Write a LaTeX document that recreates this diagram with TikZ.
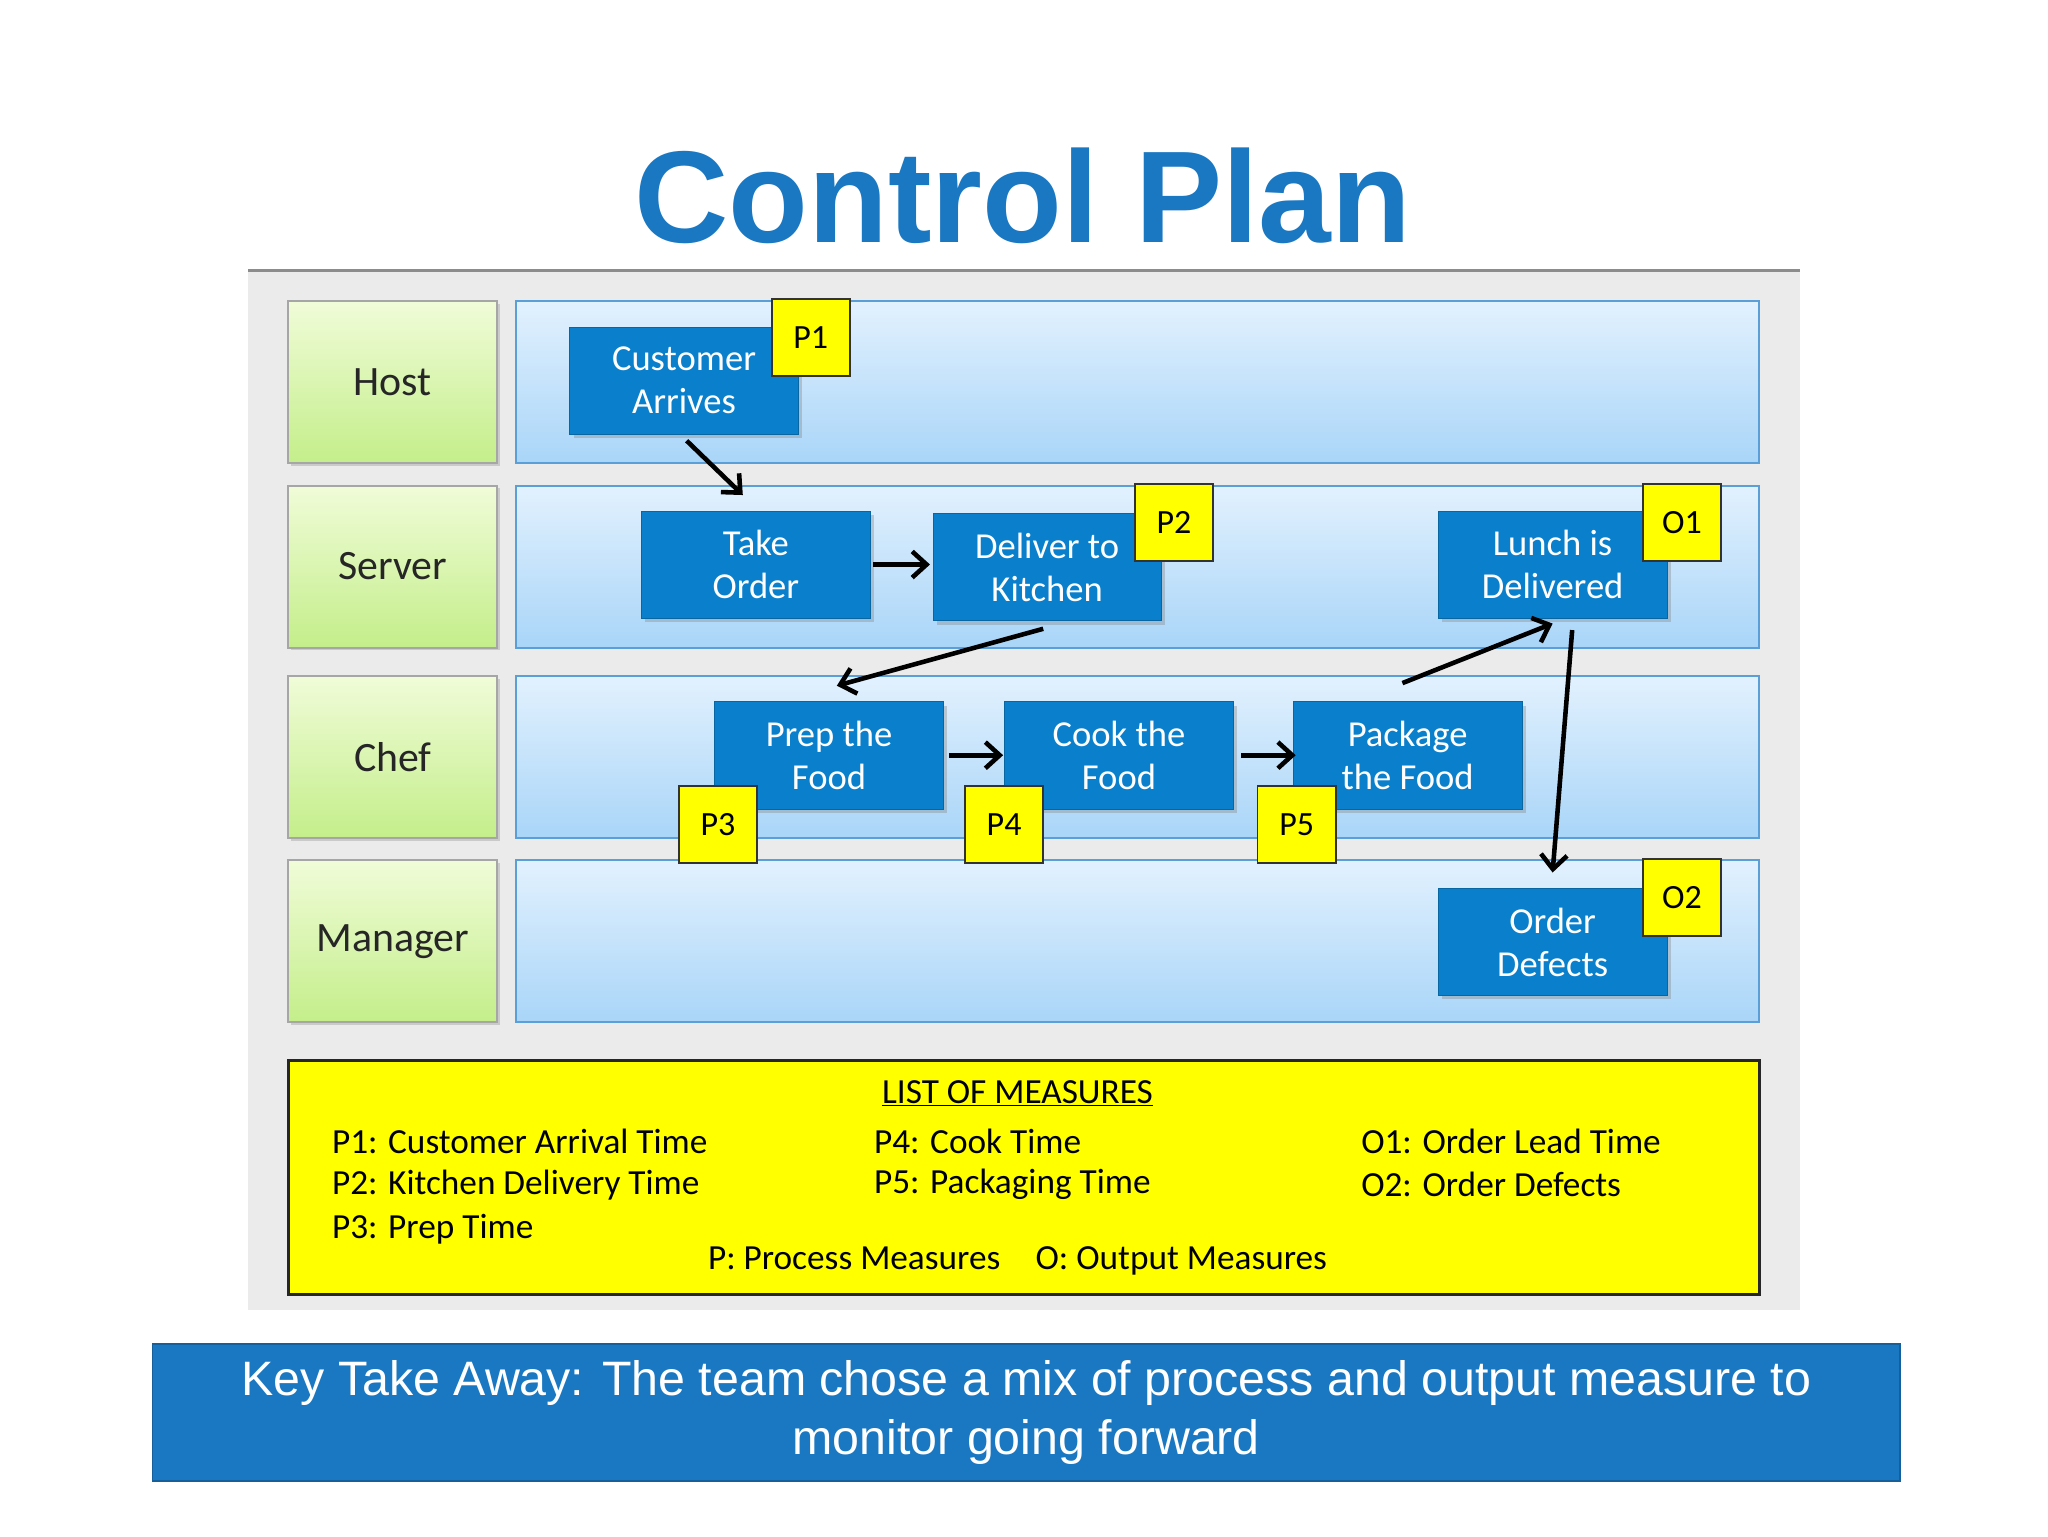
\documentclass[tikz,border=0pt]{standalone}
\usepackage{fontspec}
\setmainfont{Carlito}
\newfontfamily\arial{Liberation Sans}
\usetikzlibrary{arrows.meta,shadows,calc}
\definecolor{tblue}{HTML}{1A78C2}
\definecolor{pblue}{HTML}{0A80CC}
\definecolor{lblue1}{HTML}{E2F1FE}
\definecolor{lblue2}{HTML}{A9D5F8}
\definecolor{lborder}{HTML}{5A9FD8}
\definecolor{g1}{HTML}{F0FCD8}
\definecolor{g2}{HTML}{C4EE8A}
\definecolor{yel}{HTML}{FFFF00}
\tikzset{
  lane/.style={draw=lborder,line width=1.5pt,top color=lblue1,bottom color=lblue2,minimum width=952pt,minimum height=124pt,anchor=north west,inner sep=0pt},
  lab/.style={draw=gray!70,line width=1.5pt,top color=g1,bottom color=g2,minimum width=160pt,minimum height=124pt,anchor=north west,font=\fontsize{32}{36}\selectfont,text=black!85,drop shadow={opacity=0.3,shadow xshift=2pt,shadow yshift=-2pt}},
  proc/.style={fill=pblue,draw=pblue!80!black,minimum width=175pt,minimum height=82pt,anchor=north west,text=white,align=center,font=\fontsize{28}{33}\selectfont,inner sep=0pt,drop shadow={opacity=0.35,shadow xshift=3pt,shadow yshift=-3pt}},
  tag/.style={fill=yel,draw=black!80,line width=1.5pt,minimum width=60pt,minimum height=59pt,anchor=north west,font=\fontsize{26}{30}\selectfont,inner sep=0pt},
  arr/.style={line width=3.5pt,-{Straight Barb[length=11pt,width=20pt,line width=3.5pt]}},
  meas/.style={anchor=west,font=\fontsize{27}{30}\selectfont,inner sep=0pt}
}
\begin{document}
\begin{tikzpicture}[x=1pt,y=-1pt]
\useasboundingbox (0,0) rectangle (1568,1176);
\fill[white] (0,0) rectangle (1568,1176);
\node[font=\arial\bfseries\fontsize{100}{110}\selectfont,text=tblue] (title) at (783,150) {Control Plan};
\fill[black!8] (190,207) rectangle (1378,1003);
\draw[black!45,line width=2pt] (190,207) -- (1378,207);
% lanes
\node[lab] (lh) at (220,230) {Host};
\node[lab] (ls) at (220,371) {Server};
\node[lab] (lc) at (220,517) {Chef};
\node[lab] (lm) at (220,658) {Manager};
\node[lane] (bh) at (394,230) {};
\node[lane] (bs) at (394,371) {};
\node[lane] (bc) at (394,517) {};
\node[lane] (bm) at (394,658) {};
% process
\node[proc] (ca) at (436,250) {Customer\\Arrives};
\node[proc] (to) at (491,391) {Take\\Order};
\node[proc] (dk) at (714,393) {Deliver to\\Kitchen};
\node[proc] (ld) at (1101,391) {Lunch is\\Delivered};
\node[proc] (pf) at (547,537) {Prep the\\Food};
\node[proc] (cf) at (769,537) {Cook the\\Food};
\node[proc] (pk) at (990,537) {Package\\the Food};
\node[proc] (od) at (1101,680) {Order\\Defects};
% tags
\node[tag] (p1) at (590,228) {P1};
\node[tag] (p2) at (868,370) {P2};
\node[tag] (o1) at (1257,370) {O1};
\node[tag] (p3) at (519,601) {P3};
\node[tag] (p4) at (738,601) {P4};
\node[tag] (p5) at (962,601) {P5};
\node[tag] (o2) at (1257,657) {O2};
% arrows
\draw[arr] ([xshift=2pt,yshift=-5pt]ca.south) -- ([xshift=-10pt,yshift=12pt]to.north);
\draw[arr] (to.east) ++(2,0) coordinate (a1) (a1) -- ([xshift=-2pt]dk.west |- a1);
\draw[arr] ([xshift=-3pt,yshift=-6pt]dk.south) -- ([xshift=6pt,yshift=12pt]pf.north);
\draw[arr] ([xshift=4pt]pf.east) -- ([xshift=-1pt]cf.west);
\draw[arr] ([xshift=6pt]cf.east) -- ([xshift=2pt]pk.west);
\draw[arr] ([xshift=-4pt,yshift=14pt]pk.north) -- ([yshift=-4pt]ld.south);
\draw[arr] ([xshift=15pt,yshift=-9pt]ld.south) -- ([yshift=12pt]od.north);
% measures
\node[fill=yel,draw=black!85,line width=2pt,minimum width=1126pt,minimum height=179pt,anchor=north west] (mb) at (220,811) {};
\node[font=\fontsize{27}{30}\selectfont,inner sep=0pt] (mt) at (779,837) {\underline{LIST OF MEASURES}};
\node[meas] (m1) at (254,874) {P1: Customer Arrival Time};
\node[meas] (m2) at (254,907) {P2: Kitchen Delivery Time};
\node[meas] (m3) at (254,941) {P3: Prep Time};
\node[meas] (m4) at (669,874) {P4: Cook Time};
\node[meas] (m5) at (669,907) {P5: Packaging Time};
\node[meas] (m6) at (1042,874) {O1: Order Lead Time};
\node[meas] (m7) at (1042,907) {O2: Order Defects};
\node[font=\fontsize{27}{30}\selectfont,inner sep=0pt] (m8) at (779,965) {P: Process Measures\quad O: Output Measures};
% key takeaway
\node[fill=tblue,draw=tblue!80!black,line width=1.5pt,minimum width=1338pt,minimum height=105pt,anchor=north west,text=white,align=center,font=\arial\fontsize{37}{45}\selectfont,inner sep=0pt] (kt) at (116,1028) {Key Take Away: The team chose a mix of process and output measure to\\monitor going forward};
\end{tikzpicture}
\end{document}
